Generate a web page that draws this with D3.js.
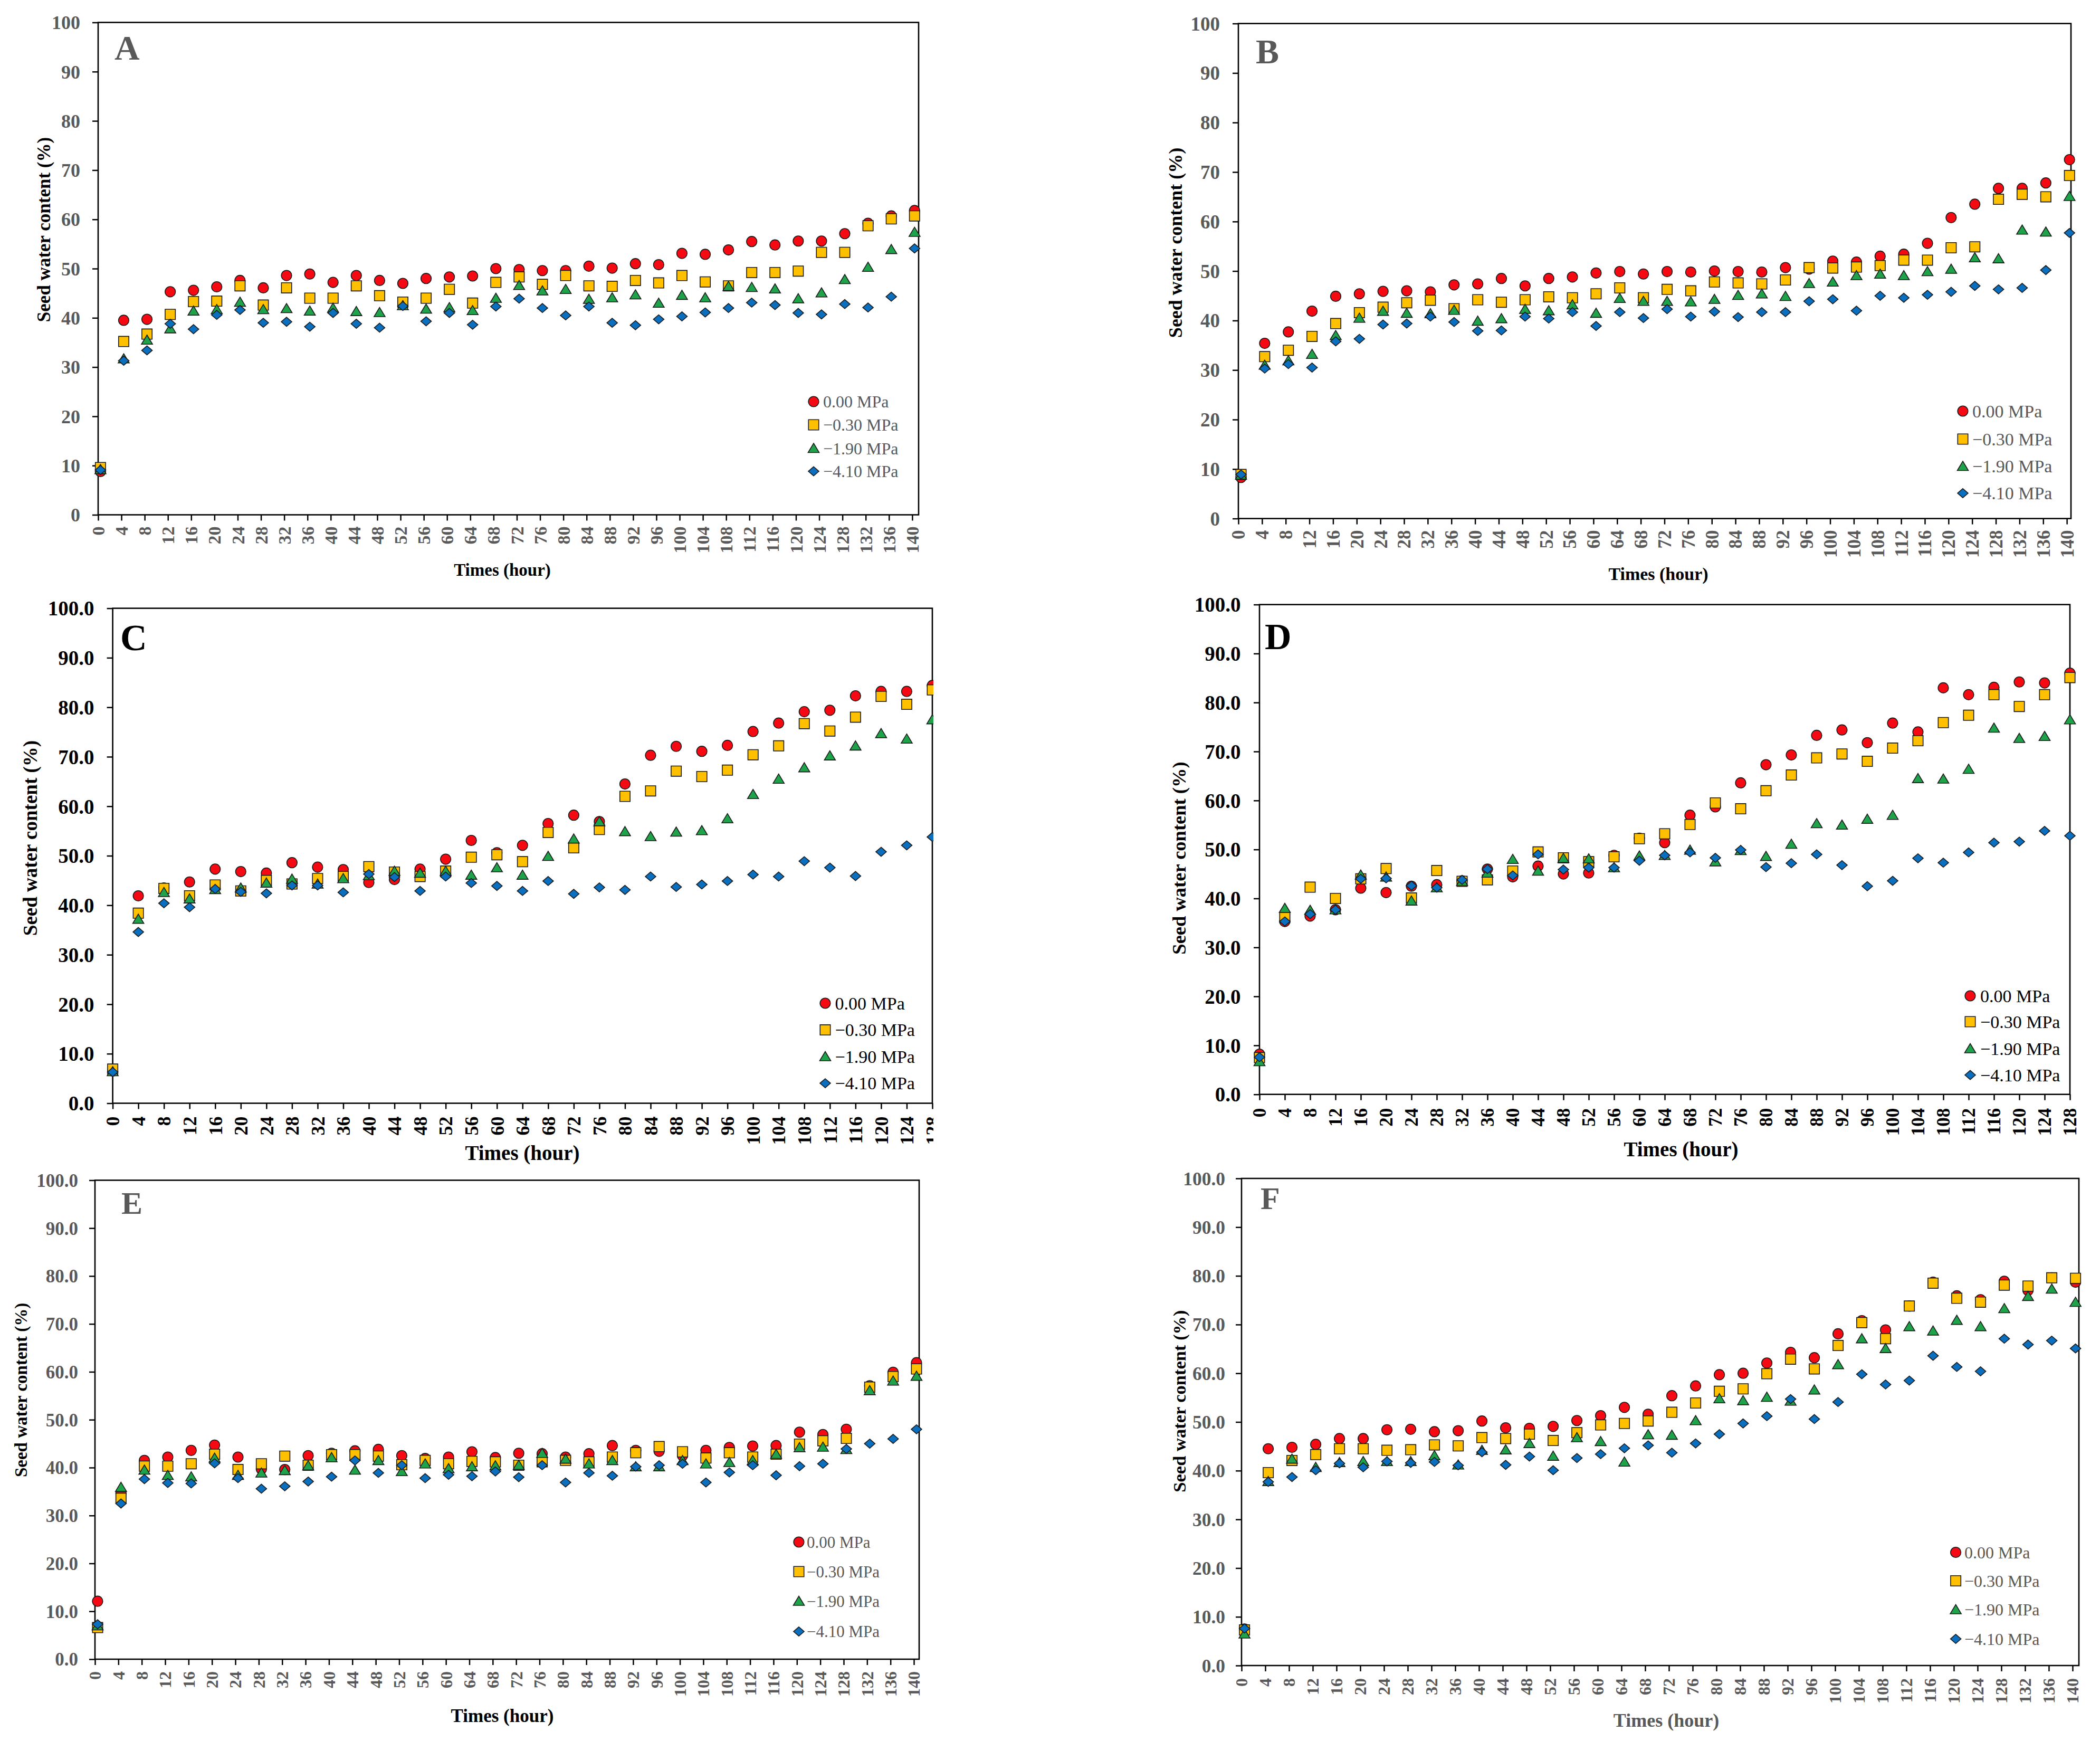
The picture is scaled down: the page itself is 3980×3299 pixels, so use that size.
<!DOCTYPE html>
<html><head><meta charset="utf-8">
<script src="https://cdn.jsdelivr.net/npm/d3@7"></script>
<style>body{margin:0;background:#fff}svg{display:block}</style>
</head><body>
<script>
// ---------------- DATA ----------------
const hours140 = [0,4,8,12,16,20,24,28,32,36,40,44,48,52,56,60,64,68,72,76,80,84,88,92,96,100,104,108,112,116,120,124,128,132,136,140];
const hours128 = [0,4,8,12,16,20,24,28,32,36,40,44,48,52,56,60,64,68,72,76,80,84,88,92,96,100,104,108,112,116,120,124,128];
const seriesNames = ["0.00 MPa","\u22120.30 MPa","\u22121.90 MPa","\u22124.10 MPa"];
const yTicks = [0,10,20,30,40,50,60,70,80,90,100];
const panelLetters = ["A","B","C","D","E","F"];
const xTitle = "Times (hour)";
const yTitle = "Seed water content (%)";

const A_p000 = [8.8,39.5,39.7,45.3,45.6,46.3,47.6,46.1,48.6,48.9,47.2,48.6,47.6,47.0,48.0,48.3,48.5,50.0,49.8,49.6,49.6,50.5,50.1,51.0,50.8,53.1,52.9,53.8,55.5,54.8,55.6,55.6,57.1,59.2,60.7,61.8];
const A_m030 = [9.6,35.2,36.7,40.7,43.3,43.4,46.5,42.6,46.1,44.0,44.0,46.5,44.5,43.2,44.0,45.8,43.0,47.2,48.3,46.8,48.6,46.5,46.4,47.6,47.1,48.6,47.3,46.5,49.2,49.2,49.5,53.3,53.3,58.7,60.1,60.7];
const A_m190 = [9.2,31.7,35.5,37.8,41.4,41.7,43.2,41.7,41.9,41.4,42.0,41.3,41.1,42.5,41.8,42.1,41.5,44.0,46.6,45.5,45.8,43.8,44.1,44.7,43.0,44.6,44.1,46.4,46.2,45.9,43.9,45.1,47.8,50.3,53.9,57.4];
const A_m410 = [9.1,31.3,33.4,38.8,37.7,40.6,41.6,39.0,39.2,38.2,41.0,38.8,38.0,42.4,39.3,41.0,38.6,42.3,43.9,42.0,40.5,42.3,39.0,38.5,39.7,40.3,41.1,42.0,43.1,42.6,41.0,40.7,42.8,42.1,44.3,54.1];

const B_p000 = [8.3,35.4,37.7,41.9,44.9,45.4,45.9,46.0,45.8,47.2,47.4,48.5,47.0,48.5,48.8,49.6,49.9,49.4,49.9,49.8,50.0,49.9,49.8,50.7,50.4,52.0,51.8,53.0,53.4,55.6,60.8,63.5,66.7,66.7,67.8,72.5];
const B_m030 = [8.9,32.7,34.0,36.8,39.4,41.6,42.7,43.6,44.1,42.4,44.2,43.7,44.2,44.8,44.6,45.4,46.6,44.6,46.3,46.0,47.8,47.6,47.4,48.2,50.7,50.6,50.8,51.1,52.2,52.2,54.7,54.9,64.5,65.5,65.0,69.3];
const B_m190 = [8.8,31.0,31.9,33.2,37.0,40.5,41.9,41.5,41.4,42.1,39.9,40.4,42.3,42.0,43.2,41.5,44.5,43.9,43.9,43.8,44.3,45.1,45.4,44.9,47.5,47.8,49.1,49.4,49.1,49.9,50.4,52.7,52.5,58.3,57.9,65.1];
const B_m410 = [8.9,30.3,31.2,30.5,35.8,36.3,39.2,39.4,40.8,39.7,37.9,38.0,40.8,40.4,41.7,38.9,41.7,40.5,42.3,40.8,41.8,40.7,41.7,41.7,43.9,44.3,42.0,45.0,44.6,45.2,45.8,47.0,46.3,46.6,50.2,57.7];

const C_p000 = [6.5,41.9,43.5,44.7,47.3,46.8,46.5,48.6,47.7,47.2,44.6,45.2,47.3,49.3,53.1,50.6,52.1,56.5,58.2,56.9,64.5,70.3,72.1,71.1,72.3,75.1,76.8,79.1,79.4,82.3,83.2,83.2,84.4];
const C_m030 = [6.9,38.4,43.4,41.9,44.1,42.9,45.0,44.3,45.4,45.8,47.8,46.7,45.8,46.9,49.7,50.2,48.8,54.7,51.6,55.3,62.0,63.1,67.1,66.0,67.3,70.4,72.2,76.7,75.2,78.0,82.2,80.6,83.5];
const C_m190 = [6.4,37.2,42.6,41.3,43.2,43.5,44.5,45.3,44.3,45.4,46.0,46.9,46.5,46.9,46.1,47.6,46.1,49.9,53.4,56.9,54.9,53.9,54.8,55.1,57.5,62.4,65.5,67.8,70.2,72.2,74.7,73.6,77.5];
const C_m410 = [6.3,34.6,40.4,39.6,43.3,42.7,42.4,44.0,44.0,42.6,46.3,45.7,42.9,45.8,44.5,43.9,42.9,44.9,42.3,43.6,43.1,45.8,43.7,44.2,44.9,46.2,45.8,48.9,47.6,45.9,50.8,52.1,53.8];

const D_p000 = [8.2,35.3,36.4,37.7,42.1,41.2,42.5,42.8,43.6,46.0,44.4,46.6,45.0,45.2,48.8,52.3,51.4,57.0,58.7,63.6,67.3,69.3,73.3,74.4,71.8,75.8,74.0,83.0,81.6,83.1,84.2,84.0,86.0];
const D_m030 = [7.5,36.1,42.3,40.0,44.0,46.1,40.1,45.7,43.5,43.8,45.6,49.5,48.3,47.5,48.5,52.2,53.2,55.1,59.5,58.3,62.0,65.2,68.7,69.5,68.0,70.7,72.2,75.9,77.4,81.6,79.2,81.6,85.1];
const D_m190 = [6.7,38.0,37.6,37.7,44.8,44.4,39.5,42.2,43.5,45.2,48.0,45.6,48.2,48.1,46.3,48.7,48.8,49.9,47.5,49.8,48.6,51.1,55.3,55.0,56.2,57.0,64.5,64.4,66.4,74.8,72.7,73.1,76.5];
const D_m410 = [7.6,35.3,36.8,37.7,44.0,44.1,42.6,42.2,43.8,46.0,44.7,49.0,45.9,46.3,46.3,47.7,48.8,49.4,48.3,49.9,46.4,47.2,49.0,46.8,42.5,43.6,48.2,47.3,49.4,51.4,51.6,53.8,52.8];

const E_p000 = [12.1,34.7,41.5,42.2,43.6,44.7,42.2,39.7,39.6,42.5,43.0,43.5,43.8,42.5,41.9,42.2,43.3,42.1,43.0,42.9,42.2,42.9,44.6,43.6,43.4,42.5,43.6,44.2,44.5,44.6,47.4,46.9,48.0,57.1,59.9,61.9];
const E_m030 = [6.6,33.6,40.3,40.3,40.8,42.8,39.6,40.8,42.4,40.5,42.7,42.7,42.4,40.6,41.5,40.8,41.3,41.2,40.5,41.2,41.5,41.2,42.2,43.1,44.4,43.3,42.0,43.1,42.2,42.8,44.9,45.6,46.1,56.8,59.0,60.6];
const E_m190 = [7.0,35.9,39.5,38.4,38.1,42.0,38.4,38.9,39.4,40.4,42.1,39.5,41.5,39.2,40.8,39.8,40.2,40.4,40.5,43.0,41.8,40.8,41.5,40.2,40.2,41.5,40.8,41.1,41.5,42.8,44.2,44.3,43.8,56.1,58.1,59.1];
const E_m410 = [7.3,32.5,37.6,36.8,36.7,40.9,37.8,35.6,36.1,37.1,38.1,41.5,38.9,40.5,37.8,38.5,38.2,39.2,38.0,40.5,36.9,38.9,38.3,40.2,40.5,40.8,36.9,39.0,40.5,38.4,40.3,40.8,43.9,45.0,46.0,48.0];

const F_p000 = [7.5,44.5,44.8,45.4,46.6,46.6,48.4,48.5,48.0,48.2,50.2,48.8,48.7,49.1,50.3,51.3,53.0,51.6,55.4,57.4,59.7,60.0,62.1,64.3,63.2,68.1,70.8,68.9,73.8,78.7,75.9,75.1,78.9,77.0,79.6,78.7];
const F_m030 = [7.3,39.6,42.1,43.3,44.5,44.5,44.2,44.3,45.3,45.1,46.8,46.6,47.5,46.2,47.8,49.4,49.7,50.2,52.0,53.9,56.3,56.8,59.9,62.9,60.9,65.7,70.4,67.1,73.8,78.5,75.4,74.6,78.1,77.9,79.6,79.5];
const F_m190 = [6.5,37.8,42.4,40.7,41.7,41.9,41.9,41.9,43.1,41.2,44.2,44.3,45.6,43.0,46.8,46.0,41.8,47.4,47.3,50.3,54.8,54.4,55.1,54.3,56.6,61.8,67.1,65.1,69.6,68.7,70.9,69.6,73.3,75.8,77.3,74.6];
const F_m410 = [7.6,37.7,38.7,40.1,41.5,40.7,41.9,41.6,41.8,41.1,43.8,41.2,42.9,40.1,42.6,43.4,44.6,45.2,43.7,45.6,47.5,49.7,51.2,54.7,50.6,54.1,59.8,57.7,58.5,63.6,61.3,60.4,67.1,65.9,66.7,65.1];

const panelHours = [hours140, hours140, hours128, hours128, hours140, hours140];
const panelSeries = [
  [A_p000,A_m030,A_m190,A_m410],
  [B_p000,B_m030,B_m190,B_m410],
  [C_p000,C_m030,C_m190,C_m410],
  [D_p000,D_m030,D_m190,D_m410],
  [E_p000,E_m030,E_m190,E_m410],
  [F_p000,F_m030,F_m190,F_m410]
];

// ---------------- LAYOUT / STYLE ----------------
const GRAY = "#595959", BLACK = "#000";
const FONT = '"Liberation Serif","Times New Roman",Times,serif';
const colors = ["#F50A14","#FFC000","#1FA34A","#0A6FBF"];
const shapes = ["circle","square","triangle","diamond"];
const layout = [
 {left:186,right:1741,top:42.5,bottom:975.5,xMax:141.1,off:0.4,dec:0,yFont:36,yPad:23,tickColor:GRAY,xFont:34,xOff:22,
  letter:{x:217,y:113,size:66,color:GRAY}, yT:{x:83,y:435,size:35}, xT:{x:952,y:1080,size:33,color:BLACK},
  leg:{mx:1542,tx:1560,ys:[761,805,849.5,893],size:32,color:GRAY}},
 {left:2347,right:3925,top:44.6,bottom:982.6,xMax:140.7,off:0.45,dec:0,yFont:37,yPad:24,tickColor:GRAY,xFont:35,xOff:22,
  letter:{x:2380,y:120,size:66,color:GRAY}, yT:{x:2228,y:460,size:36}, xT:{x:3143,y:1087,size:34,color:BLACK},
  leg:{mx:3720,tx:3738,ys:[779,832,883.5,934.5],size:34,color:GRAY}},
 {left:213.6,right:1767,top:1152.6,bottom:2090.5,xMax:128,off:0,dec:1,yFont:39,yPad:24,tickColor:BLACK,xFont:36,xOff:25,clip:1769,
  letter:{x:228,y:1232,size:70,color:BLACK}, yT:{x:57,y:1588,size:37}, xT:{x:990,y:2184,size:39,color:BLACK},
  leg:{mx:1564,tx:1582.5,ys:[1901,1951.6,2002,2052.6],size:34,color:BLACK}},
 {left:2387,right:3923,top:1145.6,bottom:2073.7,xMax:128,off:0,dec:1,yFont:39,yPad:24.5,tickColor:BLACK,xFont:35,xOff:26,
  letter:{x:2397,y:1230,size:70,color:BLACK}, yT:{x:2234,y:1626,size:36.5}, xT:{x:3186,y:2177,size:39,color:BLACK},
  leg:{mx:3734,tx:3753,ys:[1887,1936,1987,2037],size:34,color:BLACK}},
 {left:180,right:1742,top:2236.4,bottom:3144,xMax:140.9,off:0.45,dec:1,yFont:35,yPad:21,tickColor:GRAY,xFont:32,xOff:23,
  letter:{x:230,y:2300,size:60,color:GRAY}, yT:{x:40,y:2634,size:33}, xT:{x:952,y:3251,size:35,color:BLACK},
  leg:{mx:1514,tx:1529,ys:[2922,2978,3034,3091.5],size:31,color:GRAY}},
 {left:2353,right:3940,top:2233,bottom:3156,xMax:141.07,off:0.5,dec:1,yFont:35.5,yPad:20,tickColor:GRAY,xFont:32,xOff:24,
  letter:{x:2389,y:2291,size:60,color:GRAY}, yT:{x:2235,y:2655,size:34.5}, xT:{x:3158,y:3260,size:36,color:GRAY},
  leg:{mx:3706.6,tx:3723,ys:[2941.5,2995.5,3050,3105.5],size:32,color:GRAY}}
];

function markerPath(shape){
  switch(shape){
    case "circle": return "M-9.8,0A9.8,9.8 0 1,0 9.8,0A9.8,9.8 0 1,0 -9.8,0Z";
    case "square": return "M-9.7,-9.7H9.7V9.7H-9.7Z";
    case "triangle": return "M0,-9.5L10.5,8L-10.5,8Z";
    default: return "M0,-8.6L10,0L0,8.6L-10,0Z";
  }
}

// ---------------- DRAW ----------------
const W = 3980, H = 3299;
const svg = d3.select("body").append("svg").attr("width",W).attr("height",H).attr("viewBox",`0 0 ${W} ${H}`);
svg.append("rect").attr("width",W).attr("height",H).attr("fill","#fff");
const defs = svg.append("defs");

panelLetters.forEach((letter, p) => {
  const L = layout[p];
  const hours = panelHours[p];
  const series = panelSeries[p];
  const g = svg.append("g");
  if (L.clip) {
    defs.append("clipPath").attr("id","clip"+p).append("rect").attr("x",0).attr("y",0).attr("width",L.clip).attr("height",H);
    g.attr("clip-path",`url(#clip${p})`);
  }
  const x = d3.scaleLinear().domain([0,L.xMax]).range([L.left,L.right]);
  const y = d3.scaleLinear().domain([0,100]).range([L.bottom,L.top]);
  const fmt = d3.format(L.dec ? ".1f" : "d");

  // y axis
  const ya = g.append("g").attr("transform",`translate(${L.left},0)`)
    .call(d3.axisLeft(y).tickValues(yTicks).tickSize(11).tickPadding(L.yPad).tickFormat(fmt));
  ya.select(".domain").remove();
  ya.selectAll(".tick line").attr("stroke","#000").attr("stroke-width",2.5);
  ya.selectAll(".tick text").attr("font-family",FONT).attr("font-weight","bold")
    .attr("font-size",L.yFont).attr("fill",L.tickColor).attr("dy","0.34em");

  // x axis
  const xa = g.append("g").attr("transform",`translate(0,${L.bottom})`)
    .call(d3.axisBottom(x).tickValues(hours).tickSize(11).tickFormat(d => String(d)));
  xa.select(".domain").remove();
  xa.selectAll(".tick line").attr("stroke","#000").attr("stroke-width",2.5);
  xa.selectAll(".tick text").attr("transform","rotate(-90)").attr("x",-L.xOff).attr("y",0)
    .attr("dy","0.34em").attr("text-anchor","end")
    .attr("font-family",FONT).attr("font-weight","bold").attr("font-size",L.xFont).attr("fill",L.tickColor);

  // frame
  g.append("rect").attr("x",L.left).attr("y",L.top).attr("width",L.right-L.left).attr("height",L.bottom-L.top)
    .attr("fill","none").attr("stroke","#000").attr("stroke-width",2.6);

  // points
  series.forEach((vals, s) => {
    g.append("g").selectAll("path").data(vals).join("path")
      .attr("d", markerPath(shapes[s]))
      .attr("transform",(v,i) => `translate(${x(hours[i]+L.off)},${y(v)})`)
      .attr("fill",colors[s]).attr("stroke","#1a1a1a").attr("stroke-width",1.6);
  });

  // panel letter
  g.append("text").attr("x",L.letter.x).attr("y",L.letter.y).text(letter)
    .attr("font-family",FONT).attr("font-weight","bold").attr("font-size",L.letter.size).attr("fill",L.letter.color);

  // axis titles
  g.append("text").attr("transform",`translate(${L.yT.x},${L.yT.y}) rotate(-90)`).attr("text-anchor","middle")
    .attr("dominant-baseline","central").text(yTitle)
    .attr("font-family",FONT).attr("font-weight","bold").attr("font-size",L.yT.size).attr("fill","#000");
  g.append("text").attr("x",L.xT.x).attr("y",L.xT.y).attr("text-anchor","middle").attr("dominant-baseline","central")
    .text(xTitle).attr("font-family",FONT).attr("font-weight","bold").attr("font-size",L.xT.size).attr("fill",L.xT.color);

  // legend
  const lg = g.append("g");
  seriesNames.forEach((name, s) => {
    lg.append("path").attr("d",markerPath(shapes[s])).attr("transform",`translate(${L.leg.mx},${L.leg.ys[s]})`)
      .attr("fill",colors[s]).attr("stroke","#1a1a1a").attr("stroke-width",1.6);
    lg.append("text").attr("x",L.leg.tx).attr("y",L.leg.ys[s]).attr("dominant-baseline","central").text(name)
      .attr("font-family",FONT).attr("font-size",L.leg.size).attr("fill",L.leg.color);
  });
});
</script>
</body></html>
